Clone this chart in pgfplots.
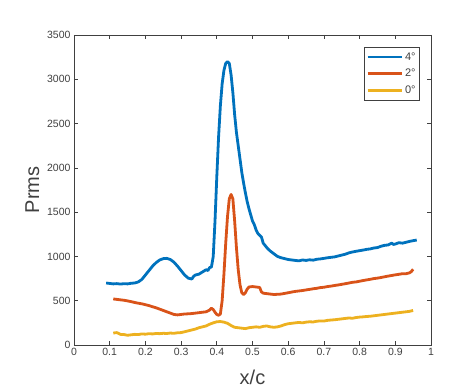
\documentclass[border=0pt]{standalone}
\usepackage{pgfplots}
\pgfplotsset{compat=1.18}
\usepackage{fontspec}
\setmainfont{Liberation Sans}
\definecolor{mblue}{rgb}{0,0.447,0.741}
\definecolor{morange}{rgb}{0.85,0.325,0.098}
\definecolor{myellow}{rgb}{0.929,0.694,0.125}
\definecolor{axgray}{rgb}{0.25,0.25,0.25}
\begin{document}
\begin{tikzpicture}
\begin{axis}[
  name=ax,
  scale only axis=true,
  width=357pt, height=310pt,
  xmin=0, xmax=1, ymin=0, ymax=3500,
  xtick={0,0.1,...,1},
  xticklabels={0,0.1,0.2,0.3,0.4,0.5,0.6,0.7,0.8,0.9,1},
  ytick={0,500,...,3500},
  scaled y ticks=false,
  /pgf/number format/assume math mode=true,
  /pgf/number format/1000 sep={},
  tick align=inside,
  major tick length=4pt,
  axis line style={axgray, line width=0.7pt},
  tick style={axgray, line width=0.6pt},
  tick label style={font=\fontsize{10.5}{10.5}\selectfont, text=axgray},
  xlabel={x/c},
  ylabel={Prms},
  xlabel style={font=\fontsize{20}{20}\selectfont, text=axgray, yshift=-7pt},
  ylabel style={font=\fontsize{20}{20}\selectfont, text=axgray, yshift=1pt},
  legend style={at={(0.969,0.961)}, anchor=north east, draw=axgray, line width=0.6pt,
    font=\fontsize{11}{11}\selectfont, inner xsep=2pt, inner ysep=3pt, row sep=3.5pt, text=axgray},
  legend cell align=left,
  legend image code/.code={\draw[#1, line width=2.8pt] (0pt,0pt) -- (34pt,0pt);},
  every axis plot/.append style={line width=2.8pt, line join=round},
]
\addplot[mblue] coordinates {
(0.09,700)(0.10,695)(0.11,690)(0.12,693)(0.13,688)(0.14,692)(0.15,690)(0.16,697)(0.17,700)(0.18,712)
(0.19,740)(0.20,790)(0.21,840)(0.22,890)(0.23,930)(0.24,960)(0.25,975)(0.26,978)(0.27,965)(0.28,935)
(0.29,890)(0.30,840)(0.31,790)(0.32,755)(0.33,745)(0.335,775)(0.34,790)(0.35,800)(0.36,825)(0.37,850)
(0.375,840)(0.38,875)(0.385,880)(0.39,1000)(0.395,1400)(0.40,1900)(0.405,2350)(0.41,2700)(0.415,2950)
(0.42,3100)(0.425,3180)(0.43,3200)(0.435,3180)(0.44,3050)(0.445,2850)(0.45,2600)(0.455,2400)(0.46,2250)
(0.465,2100)(0.47,1950)(0.475,1830)(0.48,1720)(0.485,1620)(0.49,1540)(0.495,1470)(0.50,1400)(0.505,1360)
(0.51,1300)(0.515,1260)(0.52,1240)(0.525,1220)(0.53,1150)(0.54,1100)(0.55,1060)(0.56,1030)(0.57,1000)
(0.58,985)(0.59,975)(0.60,965)(0.61,960)(0.62,955)(0.63,950)(0.64,960)(0.65,955)(0.66,962)(0.67,958)
(0.68,968)(0.69,972)(0.70,978)(0.71,985)(0.72,990)(0.73,995)(0.74,1005)(0.75,1015)(0.76,1025)(0.77,1040)
(0.78,1050)(0.79,1058)(0.80,1065)(0.81,1072)(0.82,1080)(0.83,1085)(0.84,1095)(0.85,1100)(0.86,1115)
(0.87,1125)(0.88,1130)(0.89,1150)(0.895,1135)(0.90,1140)(0.91,1155)(0.92,1150)(0.93,1160)(0.94,1170)
(0.95,1178)(0.96,1185)
};
\addlegendentry{4°}
\addplot[morange] coordinates {
(0.11,520)(0.12,515)(0.13,510)(0.14,505)(0.15,498)(0.16,490)(0.17,480)(0.18,472)(0.19,465)(0.20,455)
(0.21,445)(0.22,432)(0.23,420)(0.24,405)(0.25,390)(0.26,375)(0.27,360)(0.28,345)(0.29,340)(0.30,345)
(0.31,350)(0.32,352)(0.33,355)(0.34,360)(0.35,365)(0.36,370)(0.37,375)(0.38,395)(0.385,415)(0.39,400)
(0.395,370)(0.40,345)(0.405,335)(0.41,350)(0.415,500)(0.42,800)(0.425,1150)(0.43,1450)(0.435,1650)
(0.44,1700)(0.445,1650)(0.45,1400)(0.455,1100)(0.46,850)(0.465,680)(0.47,590)(0.475,570)(0.48,590)
(0.485,630)(0.49,655)(0.50,660)(0.51,655)(0.52,650)(0.525,600)(0.53,585)(0.54,580)(0.55,575)(0.56,570)
(0.58,575)(0.60,590)(0.61,598)(0.62,605)(0.63,610)(0.64,615)(0.65,622)(0.66,628)(0.67,635)(0.68,640)
(0.69,648)(0.70,652)(0.71,660)(0.72,665)(0.73,672)(0.74,678)(0.75,685)(0.76,692)(0.77,700)(0.78,708)
(0.79,712)(0.80,720)(0.81,728)(0.82,735)(0.83,742)(0.84,750)(0.85,755)(0.86,762)(0.87,770)(0.88,778)
(0.89,785)(0.90,792)(0.91,798)(0.92,805)(0.93,805)(0.94,815)(0.945,830)(0.95,855)
};
\addlegendentry{2°}
\addplot[myellow] coordinates {
(0.11,135)(0.12,140)(0.13,120)(0.14,118)(0.15,110)(0.16,115)(0.17,120)(0.18,118)(0.19,125)(0.20,122)
(0.21,128)(0.22,125)(0.23,130)(0.24,128)(0.25,132)(0.26,130)(0.27,135)(0.28,132)(0.29,138)(0.30,140)
(0.31,150)(0.32,160)(0.33,170)(0.34,180)(0.35,195)(0.36,205)(0.37,215)(0.38,235)(0.39,250)(0.40,262)
(0.41,265)(0.42,258)(0.43,245)(0.44,220)(0.45,200)(0.46,195)(0.47,190)(0.48,185)(0.49,195)(0.50,200)
(0.51,205)(0.52,200)(0.53,210)(0.54,215)(0.55,205)(0.56,200)(0.57,205)(0.58,215)(0.59,230)(0.60,240)
(0.61,245)(0.62,250)(0.63,255)(0.64,250)(0.65,258)(0.66,262)(0.67,260)(0.68,268)(0.69,272)(0.70,270)
(0.71,278)(0.72,282)(0.73,285)(0.74,290)(0.75,295)(0.76,300)(0.77,305)(0.78,302)(0.79,310)(0.80,315)
(0.81,318)(0.82,322)(0.83,325)(0.84,330)(0.85,335)(0.86,340)(0.87,345)(0.88,350)(0.89,355)(0.90,360)
(0.91,365)(0.92,370)(0.93,375)(0.94,380)(0.95,390)
};
\addlegendentry{0°}
\end{axis}
\path ([xshift=-74pt,yshift=-46pt]ax.south west) rectangle ([xshift=43pt,yshift=35pt]ax.north east);
\end{tikzpicture}
\end{document}
